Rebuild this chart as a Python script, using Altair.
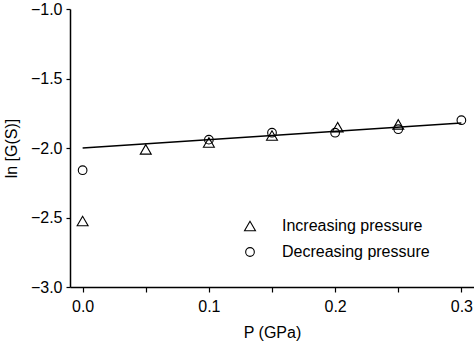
import altair as alt
import pandas as pd

# Increasing pressure (triangles)
inc_p = [0.0, 0.05, 0.10, 0.15, 0.202, 0.25]
inc_g = [-2.525, -2.01, -1.96, -1.91, -1.85, -1.83]
# Decreasing pressure (circles)
dec_p = [0.0, 0.10, 0.15, 0.20, 0.25, 0.30]
dec_g = [-2.16, -1.94, -1.89, -1.89, -1.865, -1.80]
# Fitted line
fit_p = [0.0, 0.30]
fit_g = [-2.00, -1.82]

series_names = ["Increasing pressure", "Decreasing pressure"]

pts = pd.DataFrame(
    {"P": inc_p + dec_p, "G": inc_g + dec_g,
     "series": [series_names[0]] * len(inc_p) + [series_names[1]] * len(dec_p)}
)
fit = pd.DataFrame({"P": fit_p, "G": fit_g})

font = "Liberation Sans"
x_vals = [0.0, 0.05, 0.1, 0.15, 0.2, 0.25, 0.3]
y_vals = [-3.0, -2.75, -2.5, -2.25, -2.0, -1.75, -1.5, -1.25, -1.0]

xscale = alt.Scale(domain=[-0.01, 0.31], nice=False, zero=False)
yscale = alt.Scale(domain=[-3.0, -1.0], nice=False, zero=False)

xaxis = alt.Axis(
    title="P (GPa)", values=x_vals, format=".1f",
    labelExpr="abs(datum.value*10 - round(datum.value*10)) < 0.01 ? datum.label : ''",
    grid=False, tickSize=5, labelPadding=6, titlePadding=10,
)
yaxis = alt.Axis(
    title="ln [G(S)]", values=y_vals, format=".1f",
    labelExpr="abs(datum.value*2 - round(datum.value*2)) < 0.01 ? datum.label : ''",
    grid=False, tickSize=4, labelPadding=4, titlePadding=11,
)

leg = alt.Legend(
    title=None, orient="none", legendX=172, legendY=209,
    labelFont=font, labelFontSize=16, labelColor="black",
    symbolStrokeColor="black", symbolFillColor="transparent",
    symbolStrokeWidth=1.1, labelOffset=24, rowPadding=10,
)

points = alt.Chart(pts).mark_point(filled=False, color="black", strokeWidth=1.1, opacity=1).encode(
    x=alt.X("P:Q", scale=xscale, axis=xaxis),
    y=alt.Y("G:Q", scale=yscale, axis=yaxis),
    shape=alt.Shape(
        "series:N",
        scale=alt.Scale(domain=series_names, range=["triangle-up", "circle"]),
        legend=leg,
    ),
    size=alt.Size(
        "series:N",
        scale=alt.Scale(domain=series_names, range=[120, 75]),
        legend=leg,
    ),
)

line = alt.Chart(fit).mark_line(color="black", strokeWidth=1.5).encode(
    x=alt.X("P:Q", scale=xscale),
    y=alt.Y("G:Q", scale=yscale),
)

chart = (
    alt.layer(line, points)
    .properties(
        width=404, height=278,
        autosize=alt.AutoSizeParams(type="none"),
        padding={"left": 70, "top": 9, "right": 0, "bottom": 54},
        background="white",
    )
    .configure_view(stroke=None)
    .configure_axis(
        domainColor="black", domainWidth=1.5, tickColor="black", tickWidth=1.2,
        labelFont=font, labelFontSize=16, labelColor="black",
        titleFont=font, titleFontSize=16, titleColor="black", titleFontWeight="normal",
    )
)

chart.save("out.html", embed_options={"renderer": "svg", "actions": False})
